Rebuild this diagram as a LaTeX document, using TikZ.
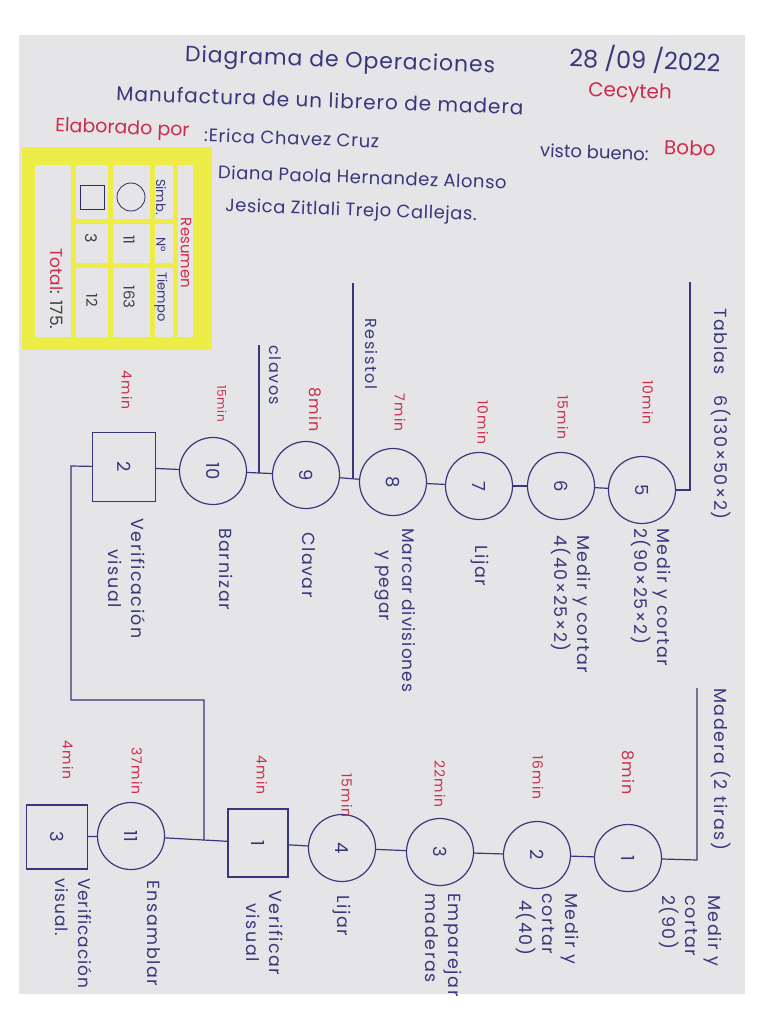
\documentclass[tikz,border=0pt]{standalone}
\usepackage{fontspec}
\setmainfont{Poppins}
\definecolor{ink}{RGB}{55,55,125}
\definecolor{redink}{RGB}{205,45,75}
\definecolor{paper}{RGB}{229,229,232}
\definecolor{hl}{RGB}{238,236,70}
\begin{document}
\begin{tikzpicture}[x=1pt,y=-1pt,
  wire/.style={draw=ink, line width=1.2pt},
  opc/.style={draw=ink, line width=1.2pt, circle, minimum size=67pt, inner sep=0pt, text=ink, font=\fontsize{18}{20}\selectfont, rotate=-90},
  insp/.style={draw=ink, line width=1.2pt, rectangle, inner sep=0pt, text=ink, font=\fontsize{18}{20}\selectfont, rotate=-90},
  tm/.style={text=redink, rotate=-90, anchor=east, inner sep=0pt, font=\fontsize{14}{16}\selectfont\addfontfeatures{LetterSpace=8}},
  lbl/.style={text=ink, rotate=-90, anchor=north west, inner sep=0pt, align=left, font=\fontsize{17.5}{23}\selectfont\addfontfeatures{LetterSpace=9}},
  lblc/.style={lbl, align=center},
  head/.style={text=ink, inner sep=0pt, rotate=-2},
  tbl/.style={text=ink, rotate=-90, inner sep=0pt, font=\fontsize{13}{15}\selectfont}]
\useasboundingbox (0,0) rectangle (768,1024);
\fill[white] (0,0) rectangle (768,1024);
\fill[paper] (19,35) rectangle (745,994);

% header
\node[head, font=\fontsize{22}{24}\selectfont\addfontfeatures{LetterSpace=4}] (title) at (340,62) {Diagrama de Operaciones};
\node[head, font=\fontsize{24}{26}\selectfont] (date) at (645,60) {28 /09 /2022};
\node[head, font=\fontsize{20}{22}\selectfont\addfontfeatures{LetterSpace=5}] (sub) at (320,100) {Manufactura de un librero de madera};
\node[head, text=redink, font=\fontsize{20}{22}\selectfont] (school) at (630,93) {Cecyteh};
\node[head, text=redink, anchor=west, font=\fontsize{19}{21}\selectfont] (elab) at (55,127) {Elaborado por};
\node[head, anchor=west, font=\fontsize{18}{20}\selectfont\addfontfeatures{LetterSpace=4}] (n1) at (204,135) {:Erica Chavez Cruz};
\node[head, anchor=west, font=\fontsize{18}{20}\selectfont\addfontfeatures{LetterSpace=3}] (n2) at (218,172) {Diana Paola Hernandez Alonso};
\node[head, anchor=west, font=\fontsize{18}{20}\selectfont\addfontfeatures{LetterSpace=3}] (n3) at (225,207) {Jesica Zitlali Trejo Callejas.};
\node[head, anchor=west, font=\fontsize{18}{20}\selectfont] (vb) at (540,150) {visto bueno:};
\node[head, text=redink, anchor=west, font=\fontsize{20}{22}\selectfont] (bobo) at (664,147) {Bobo};

% summary table
\fill[hl] (22,147) rectangle (212,350);
\fill[paper] (35,165) rectangle (193,337);
\draw[hl, line width=5pt] (73,165) -- (73,337) (110,165) -- (110,337) (152,165) -- (152,337) (175,165) -- (175,337)
  (73,222) -- (175,222) (73,265) -- (175,265);
\node[tbl, text=redink, font=\fontsize{15}{17}\selectfont] (res) at (186,253) {Resumen};
\node[tbl] (simb) at (161,197) {Simb.};
\node[tbl] (num) at (161,245) {N°};
\node[tbl] (tiempo) at (161,297) {Tiempo};
\node[draw=ink!80!black, line width=0.8pt, circle, minimum size=28pt, inner sep=0pt] (symc) at (131,197) {};
\node[draw=ink!80!black, line width=0.8pt, rectangle, minimum size=24pt, inner sep=0pt] (syms) at (92,197) {};
\node[tbl, text=black!75, font=\fontsize{15}{17}\selectfont] (c11n) at (129,240) {11};
\node[tbl, text=black!75, font=\fontsize{15}{17}\selectfont] (t163) at (129,297) {163};
\node[tbl, text=black!75, font=\fontsize{16}{18}\selectfont] (s3n) at (91,238) {3};
\node[tbl, text=black!75, font=\fontsize{15}{17}\selectfont] (t12) at (92,300) {12};
\node[tbl, text=black!75, font=\fontsize{17}{19}\selectfont] (total) at (57,289) {\textcolor{redink}{Total}: 175.};

% top row
\node[opc] (c5) at (642,490) {5};
\node[opc] (c6) at (561,486) {6};
\node[opc] (c7) at (479,486) {7};
\node[opc] (c8) at (393,482) {8};
\node[opc] (c9) at (306,475) {9};
\node[opc] (c10) at (213,471) {10};
\node[insp, minimum width=69pt, minimum height=63pt] (s2) at (124,467) {2};

\coordinate (tabtop) at (690,282);
\coordinate (tabc) at (690,490);
\coordinate (restop) at (353,283);
\coordinate (resj) at (353,478.8);
\coordinate (clvtop) at (259,345);
\coordinate (clvj) at (259,473);
\coordinate (j1) at (71,466);
\coordinate (j2) at (71,700);
\coordinate (j3) at (204,700);
\coordinate (j4) at (204,840);

\draw[wire] (tabtop) -- (tabc) -- (c5);
\draw[wire] (c5) -- (c6);
\draw[wire] (c6) -- (c7);
\draw[wire] (c7) -- (c8);
\draw[wire] (c8) -- (c9);
\draw[wire] (c9) -- (c10);
\draw[wire] (c10) -- (s2);
\draw[wire] (restop) -- (resj);
\draw[wire] (clvtop) -- (clvj);
\draw[wire] (s2) -- (j1) -- (j2) -- (j3) -- (j4);

% bottom row
\node[opc] (c1) at (628,858) {1};
\node[opc] (c2) at (537,855) {2};
\node[opc] (c3) at (440,852) {3};
\node[opc] (c4) at (342,848) {4};
\node[insp, minimum width=68pt, minimum height=60pt] (s1) at (258,843) {1};
\node[opc] (c11) at (131,836) {11};
\node[insp, minimum width=64pt, minimum height=61pt] (s3) at (57,837) {3};

\coordinate (madtop) at (697,688);
\coordinate (madc) at (697,860);
\draw[wire] (madtop) -- (madc) -- (c1);
\draw[wire] (c1) -- (c2);
\draw[wire] (c2) -- (c3);
\draw[wire] (c3) -- (c4);
\draw[wire] (c4) -- (s1);
\draw[wire] (s1) -- (c11);
\draw[wire] (c11) -- (s3);

% input labels
\node[lbl] (ltab) at (731,308) {Tablas\hspace{1.2em}6(130×50×2)};
\node[lbl] (lmad) at (731,688) {Madera (2 tiras)};
\node[lbl, font=\fontsize{16}{18}\selectfont\addfontfeatures{LetterSpace=10}] (lres) at (378,318) {Resistol};
\node[lbl, font=\fontsize{16}{18}\selectfont\addfontfeatures{LetterSpace=10}] (lclv) at (282,345) {clavos};

% times
\node[tm] (t5) at (648,425) {10min};
\node[tm] (t6) at (563,440) {15min};
\node[tm] (t7) at (483,445) {10min};
\node[tm] (t8) at (400,432) {7min};
\node[tm, font=\fontsize{16}{18}\selectfont\addfontfeatures{LetterSpace=8}] (t9) at (315,432) {8min};
\node[tm, font=\fontsize{12}{14}\selectfont\addfontfeatures{LetterSpace=5}] (t10) at (222,422) {15min};
\node[tm] (ts2) at (127,410) {4min};
\node[tm, font=\fontsize{16}{18}\selectfont\addfontfeatures{LetterSpace=8}] (t1) at (628,795) {8min};
\node[tm] (t2) at (538,800) {16min};
\node[tm] (t3) at (440,808) {22min};
\node[tm] (t4) at (347,818) {15min};
\node[tm] (ts1) at (262,795) {4min};
\node[tm] (t11) at (137,795) {37min};
\node[tm] (ts3) at (68,780) {4min};

% operation labels
\node[lbl] (l5) at (671,528) {Medir y cortar\\2(90×25×2)};
\node[lbl] (l6) at (591,535) {Medir y cortar\\4(40×25×2)};
\node[lbl] (l7) at (489,545) {Lijar};
\node[lbl, font=\fontsize{17}{23}\selectfont\addfontfeatures{LetterSpace=6}] (l8) at (416,528) {Marcar divisiones\\\hspace{1.3em}y pegar};
\node[lbl] (l9) at (316,532) {Clavar};
\node[lbl] (l10) at (233,528) {Barnizar};
\node[lblc] (ls2) at (146,518) {Verificación\\visual};

\node[lbl] (l1) at (722,895) {Medir y\\cortar\\2(90)};
\node[lbl] (l2) at (579,893) {Medir y\\cortar\\\hspace{0.4em}4(40)};
\node[lbl] (l3) at (462,893) {Emparejar\\maderas};
\node[lbl] (l4) at (351,895) {Lijar};
\node[lblc] (ls1) at (283,890) {Verificar\\visual};
\node[lbl] (l11) at (161,880) {Ensamblar};
\node[lbl, font=\fontsize{17}{23}\selectfont\addfontfeatures{LetterSpace=5}] (ls3) at (92,878) {Verificación\\visual.};
\end{tikzpicture}
\end{document}
